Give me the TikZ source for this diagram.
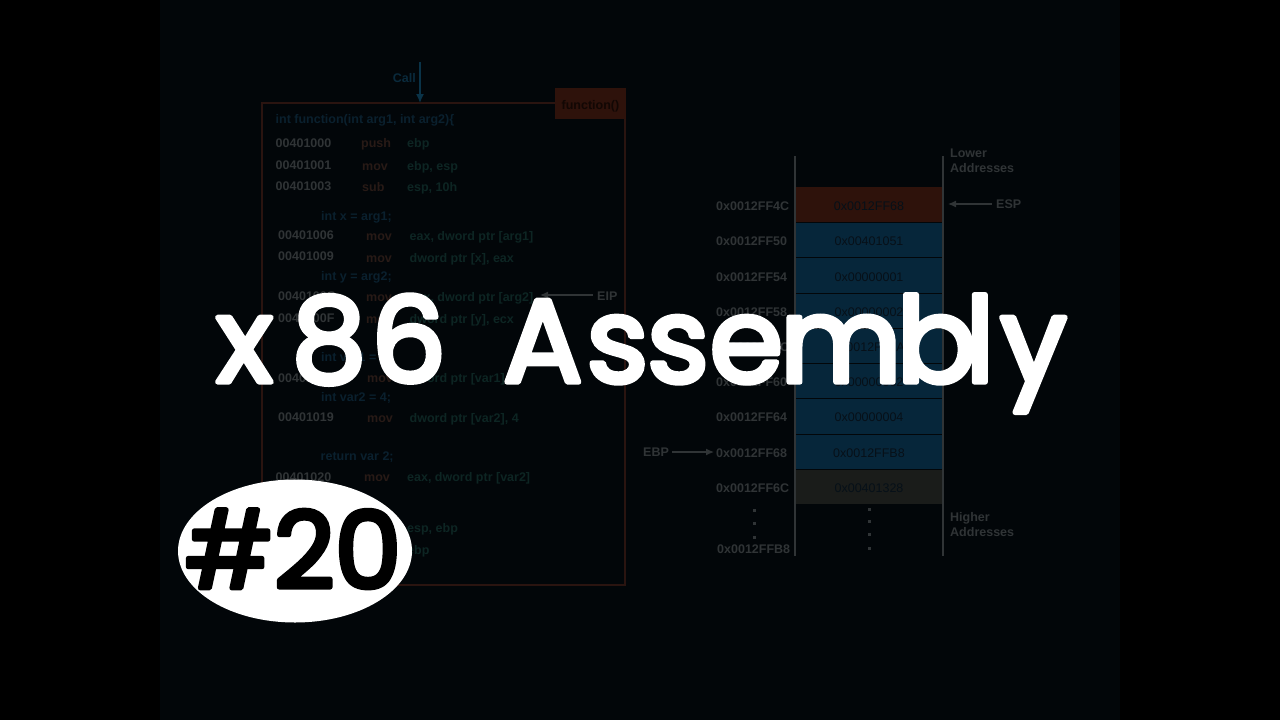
\documentclass[tikz,border=0pt]{standalone}
\usepackage{fontspec}
\usetikzlibrary{arrows.meta,shapes.geometric}
\setmainfont{Liberation Sans}
\newfontfamily\titlefont[FakeBold=4.5]{Poppins}
\definecolor{bgpanel}{HTML}{020609}
\definecolor{addr}{HTML}{303436}
\definecolor{opc}{HTML}{281A16}
\definecolor{arg}{HTML}{0D2523}
\definecolor{csrc}{HTML}{0A202E}
\definecolor{framered}{HTML}{2A1410}
\definecolor{redfill}{HTML}{2E120B}
\definecolor{bluefill}{HTML}{06263A}
\definecolor{grayfill}{HTML}{1A1C1A}
\definecolor{cellink}{HTML}{061018}
\definecolor{stackline}{HTML}{303436}
\definecolor{callblue}{HTML}{0A3348}
\definecolor{calltext}{HTML}{0A2A3C}
\tikzset{
 x=1pt,y=-1pt,
 tx/.style={inner sep=0pt,anchor=base west,font=\bfseries\fontsize{12.5}{14}\selectfont},
 adr/.style={tx,text=addr},
 op/.style={tx,text=opc},
 ag/.style={tx,text=arg},
 src/.style={tx,text=csrc},
 lab/.style={inner sep=0pt,anchor=base west,font=\bfseries\fontsize{12.5}{14}\selectfont,text=addr},
 cell/.style={inner sep=0pt,anchor=base,font=\fontsize{12.5}{14}\selectfont,text=cellink},
 titletext/.style={inner sep=0pt,text=white},
 pointer/.style={stackline,line width=1.2pt,-{Latex[length=8pt,width=7pt]}},
}
\begin{document}
\begin{tikzpicture}
\useasboundingbox (0,0) rectangle (1280,720);
\fill[black] (0,0) rectangle (1280,720);
\fill[bgpanel] (160,0) rectangle (1120,720);
% function frame
\draw[framered,line width=1.6pt] (262,103) rectangle (625,585);
\fill[redfill] (555,88) rectangle (626,119);
\node[inner sep=0pt,anchor=base,font=\bfseries\fontsize{12.5}{14}\selectfont,text=black!60!redfill] (fn) at (590.5,109) {function()};
\node[inner sep=0pt,anchor=base east,font=\bfseries\fontsize{12.5}{14}\selectfont,text=calltext] (callt) at (416,82) {Call};
\coordinate (calltop) at (420,62);
\coordinate (callend) at (420,103);
\draw[callblue,line width=1.4pt,-{Latex[length=9pt,width=8pt]}] (calltop) -- (callend);
% code
\node[src] at (275.5,123) {int function(int arg1, int arg2)\{};
\node[adr] at (275.5,147) {00401000};\node[op] at (361,147) {push};\node[ag] at (407,147) {ebp};
\node[adr] at (275.5,169) {00401001};\node[op] at (362,170) {mov};\node[ag] at (407,170) {ebp, esp};
\node[adr] at (275.5,190) {00401003};\node[op] at (362,191) {sub};\node[ag] at (407,191) {esp, 10h};
\node[src] at (321,220) {int x = arg1;};
\node[adr] at (278,239) {00401006};\node[op] at (366,240) {mov};\node[ag] at (409.5,240) {eax, dword ptr [arg1]};
\node[adr] at (278,260) {00401009};\node[op] at (366,262) {mov};\node[ag] at (409.5,262) {dword ptr [x], eax};
\node[src] at (321,280) {int y = arg2;};
\node[adr] at (278,300) {0040100C};\node[op] at (366,301) {mov};\node[ag] at (409.5,301) {ecx, dword ptr [arg2]};
\node[adr] at (278,322) {0040100F};\node[op] at (366,323) {mov};\node[ag] at (409.5,323) {dword ptr [y], ecx};
\node[src] at (321,361) {int var1 = 2;};
\node[adr] at (278,382) {00401012};\node[op] at (367,382) {mov};\node[ag] at (409.5,382) {dword ptr [var1], 2};
\node[src] at (321,401) {int var2 = 4;};
\node[adr] at (278,421) {00401019};\node[op] at (367,422) {mov};\node[ag] at (409.5,422) {dword ptr [var2], 4};
\node[src] at (320.5,460) {return var 2;};
\node[adr] at (275.5,481) {00401020};\node[op] at (364,481) {mov};\node[ag] at (407,481) {eax, dword ptr [var2]};
\node[ag] at (407,532) {esp, ebp};
\node[ag] at (407,554) {ebp};
% EIP
\node[lab] (eip) at (597,300) {EIP};
\coordinate (eiptail) at (593,295);
\coordinate (eiptip) at (540,295);
\draw[pointer] (eiptail) -- (eiptip);
% stack
\fill[redfill] (796,187) rectangle (942,222);
\fill[bluefill] (796,222) rectangle (942,469);
\fill[grayfill] (796,470) rectangle (942,504);
\foreach \yy in {222,257.5,293,328,363,398,434,469}
  \draw[bgpanel,line width=1pt] (796,\yy) -- (942,\yy);
\draw[stackline,line width=1.4pt] (795,156) -- (795,556);
\draw[stackline,line width=1.4pt] (943,156) -- (943,556);
\foreach \yy/\aa/\vv in {
 210/4C/0x0012FF68, 245/50/0x00401051, 281/54/0x00000001, 316/58/0x00000002,
 351/5C/0x0012FF7A, 386/60/0x00000002, 421/64/0x00000004, 457/68/0x0012FFB8, 492/6C/0x00401328}{
  \node[lab] at (716,\yy) {0x0012FF\aa};
  \node[cell] at (869,\yy) {\vv};
}
\node[lab] at (717,553) {0x0012FFB8};
\foreach \xx/\yy in {754/510,754/523,754/537,869/509,869/521,869/534,869/548}
  \fill[stackline] (\xx-1.5,\yy-1.5) rectangle (\xx+1.5,\yy+1.5);
\node[lab] at (950,157) {Lower};
\node[lab] at (950,172) {Addresses};
\node[lab] at (950,521) {Higher};
\node[lab] at (950,536) {Addresses};
\node[lab] (esp) at (996,208) {ESP};
\coordinate (esptail) at (992,204);
\coordinate (esptip) at (948,204);
\draw[pointer] (esptail) -- (esptip);
\node[lab] (ebp) at (643,456) {EBP};
\coordinate (ebptail) at (672,452);
\coordinate (ebptip) at (714,452);
\draw[pointer] (ebptail) -- (ebptip);
% title
\begin{scope}[line join=round,line cap=round]
\node[titletext,font=\titlefont\fontsize{118}{120}\selectfont,anchor=base west] (title) at (216,382) {x\kern19pt 8\kern5pt 6\kern57pt A\kern4pt s\kern-1pt s\kern1pt e\kern-3pt m\kern-5pt b\kern-11pt l\kern6pt y};
% badge
\node[fill=white,ellipse,minimum width=234pt,minimum height=143pt,inner sep=0pt] (badge) at (295,551) {};
\node[inner sep=0pt,anchor=base,text=black,font=\titlefont\fontsize{106}{110}\selectfont] (num) at (293,588) {\#20};
\end{scope}
\end{tikzpicture}
\end{document}
